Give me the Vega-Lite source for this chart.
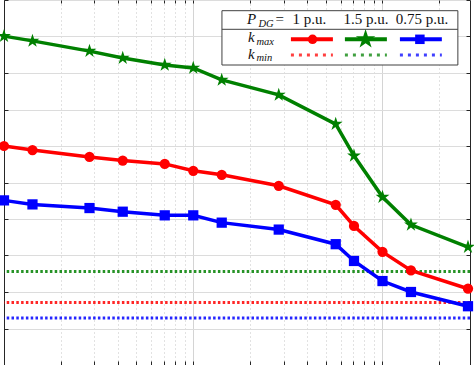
{
  "$schema": "https://vega.github.io/schema/vega-lite/v6.json",
  "width": 466,
  "height": 365,
  "autosize": {"type": "none"},
  "padding": {"left": 4, "right": 4, "top": 0, "bottom": 0},
  "background": "white",
  "config": {"view": {"stroke": null}},
  "datasets": {
    "kmax": [
      {"s": "1.5 p.u.", "x": 1, "k": 9.01}, {"s": "1.5 p.u.", "x": 1.414, "k": 8.88}, {"s": "1.5 p.u.", "x": 2.83, "k": 8.60},
      {"s": "1.5 p.u.", "x": 4.24, "k": 8.41}, {"s": "1.5 p.u.", "x": 7.07, "k": 8.22}, {"s": "1.5 p.u.", "x": 10, "k": 8.14},
      {"s": "1.5 p.u.", "x": 14.14, "k": 7.81}, {"s": "1.5 p.u.", "x": 28.3, "k": 7.40}, {"s": "1.5 p.u.", "x": 56.6, "k": 6.60},
      {"s": "1.5 p.u.", "x": 70.7, "k": 5.73}, {"s": "1.5 p.u.", "x": 100, "k": 4.60}, {"s": "1.5 p.u.", "x": 141.4, "k": 3.84},
      {"s": "1.5 p.u.", "x": 283, "k": 3.23},
      {"s": "1 p.u.", "x": 1, "k": 6.00}, {"s": "1 p.u.", "x": 1.414, "k": 5.89}, {"s": "1 p.u.", "x": 2.83, "k": 5.70},
      {"s": "1 p.u.", "x": 4.24, "k": 5.60}, {"s": "1 p.u.", "x": 7.07, "k": 5.51}, {"s": "1 p.u.", "x": 10, "k": 5.32},
      {"s": "1 p.u.", "x": 14.14, "k": 5.21}, {"s": "1 p.u.", "x": 28.3, "k": 4.91}, {"s": "1 p.u.", "x": 56.6, "k": 4.39},
      {"s": "1 p.u.", "x": 70.7, "k": 3.81}, {"s": "1 p.u.", "x": 100, "k": 3.10}, {"s": "1 p.u.", "x": 141.4, "k": 2.59},
      {"s": "1 p.u.", "x": 283, "k": 2.09},
      {"s": "0.75 p.u.", "x": 1, "k": 4.51}, {"s": "0.75 p.u.", "x": 1.414, "k": 4.40}, {"s": "0.75 p.u.", "x": 2.83, "k": 4.30},
      {"s": "0.75 p.u.", "x": 4.24, "k": 4.20}, {"s": "0.75 p.u.", "x": 7.07, "k": 4.10}, {"s": "0.75 p.u.", "x": 10, "k": 4.10},
      {"s": "0.75 p.u.", "x": 14.14, "k": 3.90}, {"s": "0.75 p.u.", "x": 28.3, "k": 3.71}, {"s": "0.75 p.u.", "x": 56.6, "k": 3.31},
      {"s": "0.75 p.u.", "x": 70.7, "k": 2.85}, {"s": "0.75 p.u.", "x": 100, "k": 2.30}, {"s": "0.75 p.u.", "x": 141.4, "k": 2.00},
      {"s": "0.75 p.u.", "x": 283, "k": 1.61}
    ],
    "kmin": [
      {"s": "1.5 p.u.", "k": 2.56},
      {"s": "1 p.u.", "k": 1.71},
      {"s": "0.75 p.u.", "k": 1.29}
    ],
    "legendItems": [
      {"s": "1 p.u.", "x": 32.82, "x2": 54.7, "xm": 42.7, "ymax": 8.923, "ymin": 8.493},
      {"s": "1.5 p.u.", "x": 63.3, "x2": 105.5, "xm": 81.4, "ymax": 8.923, "ymin": 8.493},
      {"s": "0.75 p.u.", "x": 123.6, "x2": 205.9, "xm": 157.6, "ymax": 8.923, "ymin": 8.493}
    ],
    "legendText": [
      {"t": "P", "role": "sym", "x": 19.22, "y": 9.342},
      {"t": "DG", "role": "sub", "x": 22.1, "y": 9.247},
      {"t": "=", "role": "plain", "x": 28.6, "y": 9.342},
      {"t": "1 p.u.", "role": "plain", "x": 41.1, "y": 9.342},
      {"t": "1.5 p.u.", "role": "plain", "x": 81.7, "y": 9.342},
      {"t": "0.75 p.u.", "role": "plain", "x": 161.5, "y": 9.342},
      {"t": "k", "role": "sym", "x": 19.45, "y": 8.836},
      {"t": "max", "role": "sub", "x": 21.6, "y": 8.767},
      {"t": "k", "role": "sym", "x": 19.45, "y": 8.384},
      {"t": "min", "role": "sub", "x": 21.6, "y": 8.329}
    ]
  },
  "resolve": {"axis": {"x": "independent", "y": "independent"}},
  "layer": [
    {
      "data": {"name": "kmin"},
      "mark": {"type": "rule", "strokeWidth": 3, "strokeDash": [2.5, 2.3], "opacity": 0.85},
      "encoding": {
        "y": {"field": "k", "type": "quantitative", "scale": {"domain": [0, 10], "nice": false, "zero": false}, "axis": null},
        "color": {"field": "s", "type": "nominal", "scale": {"domain": ["1 p.u.", "1.5 p.u.", "0.75 p.u."], "range": ["#ff0000", "#008000", "#0000ff"]}, "legend": null}
      }
    },
    {
      "data": {"name": "kmax"},
      "mark": {"type": "line", "strokeWidth": 3.5},
      "encoding": {
        "x": {"field": "x", "type": "quantitative", "scale": {"type": "log", "domain": [1, 290], "nice": false},
          "axis": {"orient": "bottom", "values": [1,2,3,4,5,6,7,8,9,10,20,30,40,50,60,70,80,90,100,200], "labels": false, "title": null,
            "tickSize": -4, "tickColor": "#262626", "domainColor": "#262626", "grid": true,
            "gridColor": {"condition": {"test": "indexof([1,10,100], datum.value) >= 0", "value": "#d4d4d4"}, "value": "#c4c4c4"},
            "gridDash": {"condition": {"test": "indexof([1,10,100], datum.value) >= 0", "value": []}, "value": [1, 3]}}},
        "y": {"field": "k", "type": "quantitative", "scale": {"domain": [0, 10], "nice": false, "zero": false},
          "axis": {"orient": "left", "values": [0,1,2,3,4,5,6,7,8,9,10], "labels": false, "title": null, "tickSize": -4,
            "tickColor": "#262626", "domainColor": "#262626", "grid": true, "gridColor": "#dcdcdc"}},
        "color": {"field": "s", "type": "nominal", "legend": null}
      }
    },
    {
      "data": {"name": "kmax"},
      "mark": {"type": "point", "filled": true, "opacity": 1},
      "encoding": {
        "x": {"field": "x", "type": "quantitative",
          "axis": {"orient": "top", "values": [1,2,3,4,5,6,7,8,9,10,20,30,40,50,60,70,80,90,100,200], "labels": false, "title": null,
            "tickSize": -3, "tickColor": "#262626", "domain": false, "grid": false}},
        "y": {"field": "k", "type": "quantitative",
          "axis": {"orient": "right", "values": [0,1,2,3,4,5,6,7,8,9,10], "labels": false, "title": null, "tickSize": -4,
            "tickColor": "#262626", "domainColor": "#262626", "grid": false}},
        "color": {"field": "s", "type": "nominal", "legend": null},
        "shape": {"field": "s", "type": "nominal", "scale": {"domain": ["1 p.u.", "1.5 p.u.", "0.75 p.u."], "range": ["circle", "M0,-1L0.225,-0.309L0.951,-0.309L0.363,0.118L0.588,0.809L0,0.382L-0.588,0.809L-0.363,0.118L-0.951,-0.309L-0.225,-0.309Z", "square"]}, "legend": null},
        "size": {"condition": {"test": "datum.s === '1.5 p.u.'", "value": 210}, "value": 105}
      }
    },
    {
      "data": {"values": [{}]},
      "mark": {"type": "rect", "fill": "white", "stroke": "#404040", "strokeWidth": 1},
      "encoding": {
        "x": {"datum": 14.18, "type": "quantitative", "axis": null},
        "x2": {"datum": 250.2},
        "y": {"datum": 9.707, "type": "quantitative", "axis": null},
        "y2": {"datum": 8.219}
      }
    },
    {
      "data": {"values": [{}]},
      "mark": {"type": "rule", "stroke": "#404040", "strokeWidth": 1},
      "encoding": {
        "x": {"datum": 14.18, "type": "quantitative", "axis": null},
        "x2": {"datum": 250.2},
        "y": {"datum": 9.197, "type": "quantitative", "axis": null}
      }
    },
    {
      "data": {"name": "legendItems"},
      "mark": {"type": "rule", "strokeWidth": 4},
      "encoding": {
        "x": {"field": "x", "type": "quantitative", "axis": null},
        "x2": {"field": "x2"},
        "y": {"field": "ymax", "type": "quantitative", "axis": null},
        "color": {"field": "s", "type": "nominal", "legend": null}
      }
    },
    {
      "data": {"name": "legendItems"},
      "mark": {"type": "rule", "strokeWidth": 3, "strokeDash": [3, 5], "opacity": 0.75},
      "encoding": {
        "x": {"field": "x", "type": "quantitative", "axis": null},
        "x2": {"field": "x2"},
        "y": {"field": "ymin", "type": "quantitative", "axis": null},
        "color": {"field": "s", "type": "nominal", "legend": null}
      }
    },
    {
      "data": {"name": "legendItems"},
      "mark": {"type": "point", "filled": true, "opacity": 1},
      "encoding": {
        "x": {"field": "xm", "type": "quantitative", "axis": null},
        "y": {"field": "ymax", "type": "quantitative", "axis": null},
        "color": {"field": "s", "type": "nominal", "legend": null},
        "shape": {"field": "s", "type": "nominal", "legend": null},
        "size": {"condition": {"test": "datum.s === '1.5 p.u.'", "value": 420}, "value": 90}
      }
    },
    {
      "data": {"name": "legendText"},
      "transform": [{"filter": "datum.role === 'sym'"}],
      "mark": {"type": "text", "font": "Liberation Serif", "fontStyle": "italic", "fontSize": 15, "align": "left", "baseline": "alphabetic", "color": "#111111"},
      "encoding": {
        "x": {"field": "x", "type": "quantitative", "axis": null},
        "y": {"field": "y", "type": "quantitative", "axis": null},
        "text": {"field": "t"}
      }
    },
    {
      "data": {"name": "legendText"},
      "transform": [{"filter": "datum.role === 'sub'"}],
      "mark": {"type": "text", "font": "Liberation Serif", "fontStyle": "italic", "fontSize": 10.5, "align": "left", "baseline": "alphabetic", "color": "#111111"},
      "encoding": {
        "x": {"field": "x", "type": "quantitative", "axis": null},
        "y": {"field": "y", "type": "quantitative", "axis": null},
        "text": {"field": "t"}
      }
    },
    {
      "data": {"name": "legendText"},
      "transform": [{"filter": "datum.role === 'plain'"}],
      "mark": {"type": "text", "font": "Liberation Serif", "fontSize": 15, "align": "center", "baseline": "alphabetic", "color": "#111111"},
      "encoding": {
        "x": {"field": "x", "type": "quantitative", "axis": null},
        "y": {"field": "y", "type": "quantitative", "axis": null},
        "text": {"field": "t"}
      }
    }
  ]
}
